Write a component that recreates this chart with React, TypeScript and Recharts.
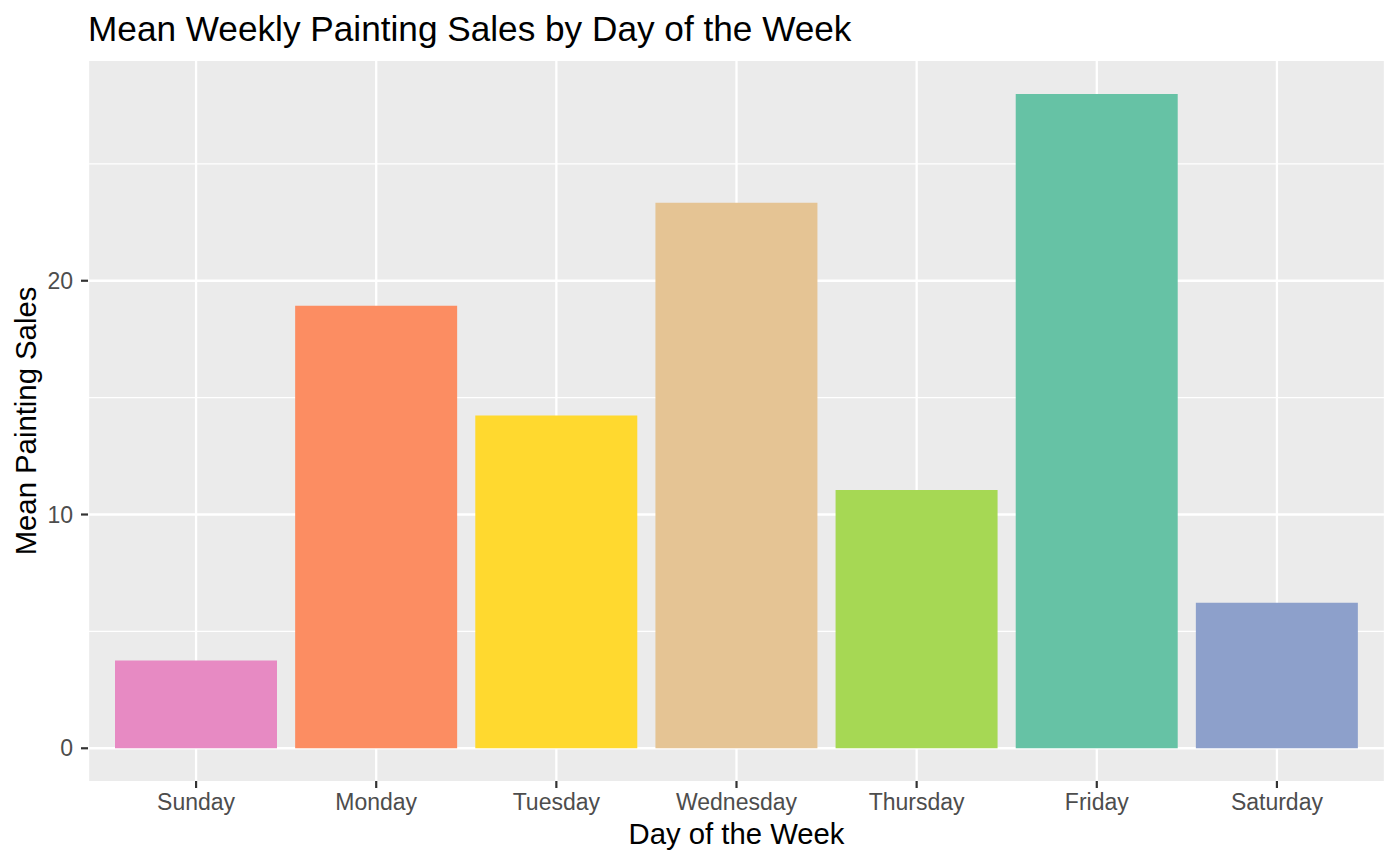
import React from 'react';
import { BarChart, Bar, XAxis, YAxis, CartesianGrid, Cell, Label } from 'recharts';

const days = ['Sunday', 'Monday', 'Tuesday', 'Wednesday', 'Thursday', 'Friday', 'Saturday'];
const sales = [3.76, 18.93, 14.23, 23.34, 11.05, 27.99, 6.23];
const barColors = ['#E78AC3', '#FC8D62', '#FFD92F', '#E5C494', '#A6D854', '#66C2A5', '#8DA0CB'];
const yTicks = [0, 10, 20];
const yMinor = [5, 15, 25];

const data = days.map((d, i) => ({ day: d, sales: sales[i] }));

const FONT = '"Liberation Sans", Arial, Helvetica, sans-serif';

const YTitle = (props: any) => {
  const vb = props.viewBox || {};
  const cx = (vb.x ?? 0) + 35.5;
  const cy = (vb.y ?? 0) + (vb.height ?? 0) / 2;
  return (
    <text
      x={cx}
      y={cy}
      transform={`rotate(-90 ${cx} ${cy})`}
      textAnchor="middle"
      fontFamily={FONT}
      fontSize={29.3}
      fill="#000000"
    >
      Mean Painting Sales
    </text>
  );
};

const XTitle = (props: any) => {
  const vb = props.viewBox || {};
  const cx = (vb.x ?? 0) + (vb.width ?? 0) / 2;
  const cy = (vb.y ?? 0) + 63;
  return (
    <text x={cx} y={cy} textAnchor="middle" fontFamily={FONT} fontSize={29.3} fill="#000000">
      Day of the Week
    </text>
  );
};

export default function App() {
  return (
    <div style={{ position: 'absolute', left: 0, top: 0, width: 1400, height: 865, background: '#ffffff' }}>
      <BarChart
        width={1400}
        height={865}
        data={data}
        margin={{ top: 61, right: 15, bottom: 0, left: 0 }}
        barCategoryGap="5%"
      >
        <CartesianGrid
          fill="#EBEBEB"
          stroke="#FFFFFF"
          strokeWidth={1.2}
          vertical={false}
          horizontalValues={yMinor}
        />
        <CartesianGrid
          stroke="#FFFFFF"
          strokeWidth={2.3}
          horizontalValues={yTicks}
        />
        <XAxis
          dataKey="day"
          type="category"
          padding={{ left: 18, right: 18 }}
          height={84}
          axisLine={false}
          tickSize={7}
          tickMargin={6}
          tickLine={{ stroke: '#333333', strokeWidth: 2.2 }}
          tick={{ fill: '#4D4D4D', fontSize: 23, fontFamily: FONT }}
          interval={0}
        >
          <Label content={<XTitle />} />
        </XAxis>
        <YAxis
          type="number"
          domain={[-1.4, 29.4]}
          allowDataOverflow
          ticks={yTicks}
          width={88}
          axisLine={false}
          tickSize={7}
          tickMargin={8}
          tickLine={{ stroke: '#333333', strokeWidth: 2.2 }}
          tick={{ fill: '#4D4D4D', fontSize: 23, fontFamily: FONT }}
        >
          <Label content={<YTitle />} />
        </YAxis>
        <Bar dataKey="sales" isAnimationActive={false}>
          {data.map((d, i) => (
            <Cell key={d.day} fill={barColors[i]} />
          ))}
        </Bar>
      </BarChart>
      <svg
        width={1400}
        height={865}
        style={{ position: 'absolute', left: 0, top: 0, pointerEvents: 'none' }}
      >
        <text x={88} y={40.7} fontFamily={FONT} fontSize={35.2} fill="#000000">
          Mean Weekly Painting Sales by Day of the Week
        </text>
      </svg>
    </div>
  );
}
